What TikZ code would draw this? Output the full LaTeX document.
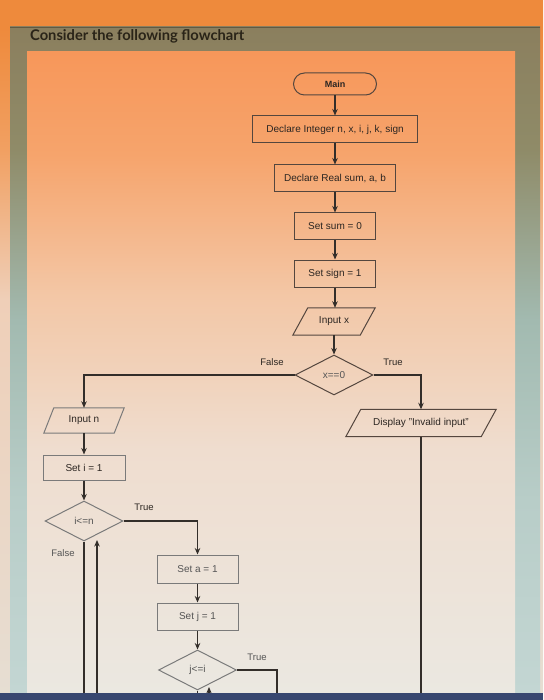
\documentclass[tikz,border=0pt]{standalone}
\usepackage{fontspec}
\setmainfont{Liberation Sans}
\newfontfamily\hdrfont{Lato}
\usetikzlibrary{shapes.geometric,arrows.meta,calc}
% outer background
\definecolor{ot}{HTML}{EE8A3C}
\definecolor{o1}{HTML}{F1A062}
\definecolor{o2}{HTML}{EFCFB8}
\definecolor{ob}{HTML}{E6DED3}
% frame
\definecolor{ft}{HTML}{8B7F5E}
\definecolor{f1}{HTML}{8F8B68}
\definecolor{f2}{HTML}{A2BAB0}
\definecolor{f3}{HTML}{B8CDC8}
\definecolor{fb}{HTML}{C3D6D3}
% panel
\definecolor{pt}{HTML}{F7975A}
\definecolor{p1}{HTML}{F6A46C}
\definecolor{p2}{HTML}{F3C7A6}
\definecolor{p3}{HTML}{EFDDCF}
\definecolor{pb}{HTML}{EBE8E1}
\definecolor{stripc}{HTML}{384770}
\definecolor{hdrc}{HTML}{2A2418}
\definecolor{linec}{HTML}{332E2A}
\definecolor{boxc}{HTML}{54463E}
\definecolor{boxc2}{HTML}{7A7A7A}
\definecolor{txtc}{HTML}{2C2622}
\definecolor{txtc2}{HTML}{555555}
\pgfdeclareverticalshading{outershade}{100bp}{color(0bp)=(ob); color(25bp)=(ob); color(53.6bp)=(o2); color(64.3bp)=(o1); color(73bp)=(ot); color(75bp)=(ot); color(100bp)=(ot)}
\pgfdeclareverticalshading{frameshade}{100bp}{color(0bp)=(fb); color(25bp)=(fb); color(39.5bp)=(f3); color(53bp)=(f2); color(65.8bp)=(f1); color(75bp)=(ft); color(100bp)=(ft)}
\pgfdeclareverticalshading{panelshade}{100bp}{color(0bp)=(pb); color(25bp)=(pb); color(44bp)=(p3); color(56bp)=(p2); color(67bp)=(p1); color(75bp)=(pt); color(100bp)=(pt)}
\newcommand\paraline[3]{\draw[#3] ([xshift=-#2]#1.south west) -- ([xshift=-#2]#1.south east) -- ([xshift=#2]#1.north east) -- ([xshift=#2]#1.north west) -- cycle;}
\tikzset{
  txt/.style={font=\fontsize{10}{12}\selectfont, text=txtc},
  box/.style={txt, draw=boxc, line width=1pt, minimum height=27pt, inner sep=0pt},
  pbox/.style={txt, minimum height=27pt, inner sep=0pt},
  pline/.style={draw=boxc, line width=1pt, line join=miter},
  term/.style={draw=boxc, line width=1pt, rounded corners=11pt, minimum width=83pt, minimum height=22pt, inner sep=0pt, font=\fontsize{9}{11}\selectfont\bfseries, text=txtc},
  dia/.style={diamond, draw=boxc2, line width=1pt, minimum width=78pt, minimum height=40pt, inner sep=0pt, txt, text=txtc2},
  flow/.style={draw=linec, line width=1.2pt, -{Stealth[length=6.5pt,width=5.5pt]}},
  plain/.style={draw=linec, line width=1.2pt},
  lbl/.style={font=\fontsize{9.5}{11}\selectfont, text=txtc, inner sep=0pt}
}
\begin{document}
\begin{tikzpicture}[x=1pt,y=-1pt]
\useasboundingbox (0,0) rectangle (543,700);
% backgrounds
\shade[shading=outershade] (0,0) rectangle (543,700);
\shade[shading=frameshade] (10,27) rectangle (540,693);
\draw[draw=ft!70!black, line width=0.8pt] (10,27) -- (540,27);
\shade[shading=panelshade] (27,52) rectangle (515,693);
% header
\node[anchor=west, font=\hdrfont\bfseries\fontsize{14.7}{17}\selectfont, text=hdrc, inner sep=0pt] (hdr) at (30,36.5) {Consider the following flowchart};
% main column
\node[term] (main) at (335,84) {Main};
\node[box, minimum width=165pt] (decl1) at (335,129.5) {Declare Integer n, x, i, j, k, sign};
\node[box, minimum width=121pt] (decl2) at (335,178.5) {Declare Real sum, a, b};
\node[box, minimum width=81pt] (setsum) at (335,226.5) {Set sum = 0};
\node[box, minimum width=81pt] (setsign) at (335,273.5) {Set sign = 1};
\node[pbox, minimum width=67pt] (inx) at (334,321.5) {Input x};
\paraline{inx}{7.5pt}{pline}
\node[dia, draw=boxc] (decx) at (334,375) {x==0};
\node[pbox, minimum width=135pt] (disp) at (421,423) {Display "Invalid input"};
\paraline{disp}{7.5pt}{pline}
% left column
\node[pbox, minimum width=70pt, minimum height=25pt] (inn) at (84,420.5) {Input n};
\paraline{inn}{5pt}{pline, draw=boxc2}
\node[box, draw=boxc2, minimum width=82pt, minimum height=25pt] (seti) at (84,467.5) {Set i = 1};
\node[dia] (deci) at (84,521) {i<=n};
% inner column
\node[box, draw=boxc2, minimum width=81pt, minimum height=28pt, text=txtc2] (seta) at (197.5,569) {Set a = 1};
\node[box, draw=boxc2, minimum width=81pt, text=txtc2] (setj) at (197.5,616.5) {Set j = 1};
\node[dia] (decj) at (197.5,670) {j<=i};
% labels
\node[lbl] (lf1) at (272,362) {False};
\node[lbl] (lt1) at (393,362) {True};
\node[lbl] (lt2) at (144,507) {True};
\node[lbl, text=txtc2] (lf2) at (63,553) {False};
\node[lbl, text=txtc2] (lt3) at (257,657) {True};
% bottom coordinates
\coordinate (bF) at (84,693);
\coordinate (rB) at (97,693);
\coordinate (rT) at (97,540);
\coordinate (jT) at (277,693);
\coordinate (jF) at (197.5,693);
\coordinate (jrB) at (209,693);
\coordinate (jrT) at (209,687);
% connectors
\draw[flow] (main) -- (decl1);
\draw[flow] (decl1) -- (decl2);
\draw[flow] (decl2) -- (setsum);
\draw[flow] (setsum) -- (setsign);
\draw[flow] (setsign.south) -- (setsign.south |- inx.north);
\draw[flow] (inx.south) -- (inx.south |- decx.north);
\draw[flow] (decx.west) -| (inn.north);
\draw[flow] (decx.east) -| (disp.north);
\draw[plain] (disp.south) -- (disp.south |- bF);
\draw[flow] (inn) -- (seti);
\draw[flow] (seti) -- (deci);
\draw[flow] (deci.east) -| (seta.north);
\draw[plain] (deci.south) -- (bF);
\draw[flow] (rB) -- (rT);
\draw[flow] (seta) -- (setj);
\draw[flow] (setj) -- (decj);
\draw[plain] (decj.east) -| (jT);
\draw[plain] (decj.south) -- (jF);
\draw[flow] (jrB) -- (jrT);
% bottom strip
\fill[stripc] (0,693) rectangle (543,700);
\end{tikzpicture}
\end{document}
